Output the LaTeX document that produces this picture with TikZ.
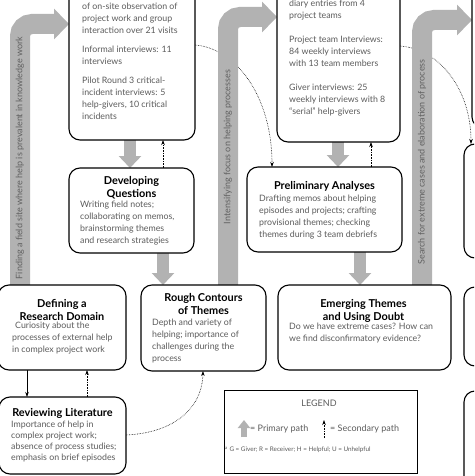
\documentclass[tikz,border=0pt]{standalone}
\usepackage{fontspec}
\setmainfont{Lato}
\usetikzlibrary{arrows.meta}
\definecolor{bargray}{gray}{0.70}
\definecolor{bodygray}{gray}{0.36}
\definecolor{bartext}{gray}{0.38}
\pgfdeclarelayer{bg}
\pgfsetlayers{bg,main}
\begin{document}
\begin{tikzpicture}[x=1pt,y=-1pt,
  box/.style={draw=black, fill=white, line width=1.1pt, rounded corners=11pt, inner sep=0pt, outer sep=0pt},
  legendbox/.style={draw=black, fill=white, line width=0.9pt, inner sep=0pt, outer sep=0pt},
  body/.style={font=\fontsize{8.8}{12}\selectfont, text=bodygray, align=left, anchor=north west, inner sep=0pt},
  ttl/.style={font=\bfseries\fontsize{10.9}{11.5}\selectfont, align=center, anchor=north, inner sep=0pt},
  bigarrow/.style={line width=20pt, draw=bargray, rounded corners=12pt, -{Triangle[width=30pt,length=15pt]}},
  primary/.style={line width=12pt, draw=bargray, -{Triangle[width=22pt,length=12pt]}},
  primaryicon/.style={line width=6pt, draw=bargray, -{Triangle[width=12pt,length=8pt]}},
  secondary/.style={densely dotted, line width=0.6pt, -{Stealth[length=5pt,width=3.5pt]}},
  solidarrow/.style={line width=0.6pt, -{Stealth[length=5pt,width=3.5pt]}},
  bartxt/.style={rotate=90, font=\fontsize{9}{10}\selectfont, text=bartext, inner sep=0pt},
  legtxt/.style={font=\fontsize{9}{10}\selectfont, text=bodygray, inner sep=0pt}
]
\clip (0,0) rectangle (474,476);

% boxes
\node[box, minimum width=126pt, minimum height=200pt] (tl) at (132,40) {};
\node[box, minimum width=123pt, minimum height=202pt] (tm) at (338.5,41) {};
\node[box, minimum width=100pt, minimum height=188pt] (tr) at (522,34) {};
\node[box, minimum width=125pt, minimum height=85pt] (dq) at (131.5,210.5) {};
\node[box, minimum width=155pt, minimum height=85pt] (pa) at (324.5,209.5) {};
\node[box, minimum width=100pt, minimum height=114pt] (r1) at (514,201) {};
\node[box, minimum width=128pt, minimum height=85pt] (dd) at (62,327.5) {};
\node[box, minimum width=125pt, minimum height=86pt] (rc) at (203.5,328) {};
\node[box, minimum width=173pt, minimum height=85pt] (et) at (364.5,327.5) {};
\node[box, minimum width=100pt, minimum height=79pt] (r2) at (514,326.5) {};
\node[box, minimum width=127pt, minimum height=77pt] (rl) at (62.5,435.5) {};
\node[legendbox, minimum width=193pt, minimum height=83pt] (lg) at (320.5,431.5) {};
\node[box, minimum width=100pt, minimum height=119pt] (r3) at (514,450.5) {};

% texts
\node[body] (tltx) at (82,0.9) {\strut of on-site observation of\\project work and group\\interaction over 21 visits\\[7pt]Informal interviews: 11\\interviews\\[7pt]Pilot Round 3 critical-\\incident interviews: 5\\help-givers, 10 critical\\incidents};
\node[body] (tmtx) at (289,-2.1) {\strut diary entries from 4\\project teams\\[12pt]Project team Interviews:\\84 weekly interviews\\with 13 team members\\[12pt]Giver interviews: 25\\weekly interviews with 8\\``serial'' help-givers};

\node[ttl] (dqt) at (131.5,176.4) {\strut Developing\\Questions};
\node[body] (dqb) at (80,199) {\strut Writing field notes;\\collaborating on memos,\\brainstorming themes\\and research strategies};

\node[ttl] (pat) at (324.5,181.6) {\strut Preliminary Analyses};
\node[body] (pab) at (259,192.9) {\strut Drafting memos about helping\\episodes and projects; crafting\\provisional themes; checking\\themes during 3 team debriefs};

\node[ttl] (ddt) at (62,299.6) {\strut Defining a\\Research Domain};
\node[body] (ddb) at (12,320) {\strut \hspace{3pt}Curiosity about the\\processes of external help\\in complex project work};

\node[ttl] (rct) at (203.5,293.6) {\strut Rough Contours\\of Themes};
\node[body] (rcb) at (152,317) {\strut Depth and variety of\\helping; importance of\\challenges during the\\process};

\node[ttl] (ett) at (363.5,299.6) {\strut Emerging Themes\\and Using Doubt};
\node[body] (etb) at (289,321) {\strut Do we have extreme cases? How can\\we find disconfirmatory evidence?};

\node[ttl] (rlt) at (62.5,408.6) {\strut Reviewing Literature};
\node[body, font=\fontsize{8.8}{11.2}\selectfont] (rlb) at (11,419) {\strut Importance of help in\\complex project work;\\absence of process studies;\\emphasis on brief episodes};

% legend
\node[legtxt] (lgt) at (319,403) {LEGEND};
\coordinate (pi1) at (244,437);
\coordinate (pi2) at (244,420);
\coordinate (si1) at (324,438);
\coordinate (si2) at (324,420);
\node[legtxt, anchor=west] (lgp) at (250,429) {= Primary path};
\node[legtxt, anchor=west] (lgs) at (330,429) {= Secondary path};
\node[legtxt, anchor=west, font=\fontsize{6.3}{7}\selectfont] (lgf) at (225,450) {\textsuperscript{a} G = Giver; R = Receiver; H = Helpful; U = Unhelpful};

\begin{pgfonlayer}{bg}
  % secondary curves
  \draw[secondary] (tl.east |- 0,45) .. controls (235,48) and (272,95) .. (272,0 |- pa.north);
  \draw[secondary] (tm.east |- 0,46) .. controls (440,49) and (471,90) .. (471,0 |- r1.north);
  \draw[secondary] (rl.east |- 0,435) .. controls (172,433) and (202,410) .. (203,0 |- rc.south);
  % big L arrows
  \draw[bigarrow] (20,0 |- dd.north) -- (20,24) -- (tl.west |- 0,24);
  \draw[bigarrow] (228,0 |- rc.north) -- (228,17) -- (tm.west |- 0,17);
  \draw[bigarrow] (422,0 |- et.north) -- (422,20) -- (tr.west |- 0,20);
  \node[bartxt] (ta) at (20,158) {Finding a field site where help is prevalent in knowledge work};
  \node[bartxt] (tb) at (228,147) {Intensifying focus on helping processes};
  \node[bartxt] (tc) at (422,162) {Search for extreme cases and elaboration of process};
  % primary arrows
  \draw[primary] (130,0 |- tl.south) -- (130,0 |- dq.north);
  \draw[primary] (163,0 |- dq.south) -- (163,0 |- rc.north);
  \draw[primary] (338,0 |- tm.south) -- (338,0 |- pa.north);
  \draw[primary] (360,0 |- pa.south) -- (360,0 |- et.north);
  % secondary straight
  \draw[secondary] (163,0 |- dq.north) -- (163,0 |- tl.south);
  \draw[secondary] (371,0 |- pa.north) -- (371,0 |- tm.south);
  \draw[solidarrow] (27,0 |- dd.south) -- (27,0 |- rl.north);
  \draw[secondary] (87,0 |- rl.north) -- (87,0 |- dd.south);
\end{pgfonlayer}
% legend icons
\draw[primaryicon] (pi1) -- (pi2);
\draw[secondary] (si1) -- (si2);
\end{tikzpicture}
\end{document}
